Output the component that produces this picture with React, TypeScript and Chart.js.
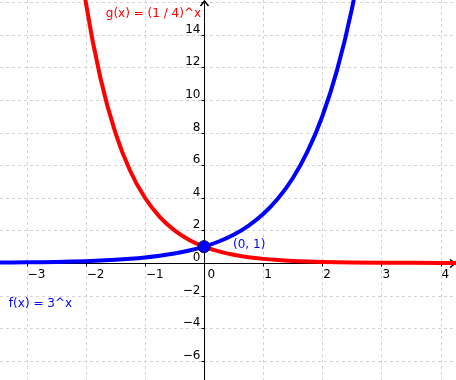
import React, { useEffect, useRef } from "react";
import { Chart, registerables } from "chart.js";

Chart.register(...registerables);

const fX = [-3.5, -3.25, -3, -2.75, -2.5, -2.25, -2, -1.75, -1.5, -1.25, -1, -0.75, -0.5, -0.25, 0, 0.25, 0.5, 0.75, 1, 1.25, 1.5, 1.75, 2, 2.25, 2.5, 2.75];
const fY = [0.021, 0.028, 0.037, 0.049, 0.064, 0.084, 0.111, 0.146, 0.192, 0.253, 0.333, 0.439, 0.577, 0.76, 1, 1.316, 1.732, 2.28, 3, 3.948, 5.196, 6.839, 9, 11.845, 15.588, 20.515];

// g(x) = (1/4)^x
const gX = [-2.25, -2, -1.75, -1.5, -1.25, -1, -0.75, -0.5, -0.25, 0, 0.25, 0.5, 0.75, 1, 1.25, 1.5, 1.75, 2, 2.5, 3, 3.5, 4, 4.5];
const gY = [22.627, 16, 11.314, 8, 5.657, 4, 2.828, 2, 1.414, 1, 0.707, 0.5, 0.354, 0.25, 0.177, 0.125, 0.088, 0.0625, 0.031, 0.0156, 0.0078, 0.0039, 0.002];

// highlighted point
const pointX = [0];
const pointY = [1];

// axis ticks
const xTicks = [-3, -2, -1, 0, 1, 2, 3, 4];
const yTicks = [-6, -4, -2, 0, 2, 4, 6, 8, 10, 12, 14, 16];
const xTickLabels = ["−3", "−2", "−1", "0", "1", "2", "3", "4"];
const yTickLabels = ["−6", "−4", "−2", "0", "2", "4", "6", "8", "10", "12", "14", ""];

const fLabel = "f(x) = 3^x";
const gLabel = "g(x) = (1 / 4)^x";
const pointLabel = "(0, 1)";

const FONT = "12px 'DejaVu Sans', Verdana, sans-serif";

const axesPlugin = {
  id: "mathAxes",
  beforeDatasetsDraw(chart: any) {
    const { ctx, chartArea, scales } = chart;
    const xs = scales.x;
    const ys = scales.y;
    const x0 = Math.round(xs.getPixelForValue(0)) + 0.5;
    const y0 = Math.round(ys.getPixelForValue(0)) + 0.5;
    ctx.save();
    // grid
    ctx.strokeStyle = "#d4d4d4";
    ctx.lineWidth = 1;
    ctx.setLineDash([3, 3]);
    xTicks.forEach((v) => {
      if (v === 0) return;
      const px = Math.round(xs.getPixelForValue(v)) + 0.5;
      ctx.beginPath();
      ctx.moveTo(px, chartArea.top);
      ctx.lineTo(px, chartArea.bottom);
      ctx.stroke();
    });
    yTicks.forEach((v) => {
      if (v === 0) return;
      const py = Math.round(ys.getPixelForValue(v)) + 0.5;
      ctx.beginPath();
      ctx.moveTo(chartArea.left, py);
      ctx.lineTo(chartArea.right, py);
      ctx.stroke();
    });
    ctx.setLineDash([]);
    // axes
    ctx.strokeStyle = "#000";
    ctx.lineWidth = 1;
    ctx.beginPath();
    ctx.moveTo(chartArea.left, y0);
    ctx.lineTo(chartArea.right - 1, y0);
    ctx.moveTo(x0, chartArea.bottom);
    ctx.lineTo(x0, chartArea.top + 1);
    ctx.stroke();
    // arrows
    ctx.lineWidth = 1.5;
    ctx.beginPath();
    ctx.moveTo(chartArea.right - 6, y0 - 4);
    ctx.lineTo(chartArea.right - 1, y0);
    ctx.lineTo(chartArea.right - 6, y0 + 4);
    ctx.moveTo(x0 - 4, chartArea.top + 6);
    ctx.lineTo(x0, chartArea.top + 1);
    ctx.lineTo(x0 + 4, chartArea.top + 6);
    ctx.stroke();
    // tick marks
    ctx.lineWidth = 1;
    ctx.beginPath();
    xTicks.forEach((v) => {
      if (v === 0) return;
      const px = Math.round(xs.getPixelForValue(v)) + 0.5;
      ctx.moveTo(px, y0);
      ctx.lineTo(px, y0 + 3);
    });
    yTicks.forEach((v) => {
      if (v === 0) return;
      const py = Math.round(ys.getPixelForValue(v)) + 0.5;
      ctx.moveTo(x0, py);
      ctx.lineTo(x0 - 3, py);
    });
    ctx.stroke();
    // tick labels
    ctx.font = FONT;
    ctx.fillStyle = "#000";
    ctx.textBaseline = "middle";
    ctx.textAlign = "left";
    xTicks.forEach((v, i) => {
      const px = v === 0 ? x0 + 3 : xs.getPixelForValue(v) + 1;
      ctx.fillText(xTickLabels[i], px, y0 + 11);
    });
    ctx.textAlign = "right";
    yTicks.forEach((v, i) => {
      const py = ys.getPixelForValue(v);
      ctx.fillText(yTickLabels[i], x0 - 4, py - 5);
    });
    ctx.restore();
  },
  afterDatasetsDraw(chart: any) {
    const { ctx, scales } = chart;
    const xs = scales.x;
    const ys = scales.y;
    const x0 = xs.getPixelForValue(0);
    ctx.save();
    ctx.font = FONT;
    ctx.textBaseline = "middle";
    ctx.fillStyle = "#ff0000";
    ctx.textAlign = "right";
    ctx.fillText(gLabel, x0 - 3, ys.getPixelForValue(15.25));
    ctx.fillStyle = "#0000ff";
    ctx.textAlign = "left";
    ctx.fillText(fLabel, xs.getPixelForValue(-3.3), ys.getPixelForValue(-2.5));
    ctx.fillText(pointLabel, xs.getPixelForValue(pointX[0]) + 29, ys.getPixelForValue(pointY[0]) - 2);
    ctx.restore();
  },
};

export default function App() {
  const ref = useRef<HTMLCanvasElement>(null);
  useEffect(() => {
    document.body.style.margin = "0";
    const toXY = (xa: number[], ya: number[]) => xa.map((x, i) => ({ x, y: ya[i] }));
    const chart = new Chart(ref.current!, {
      type: "scatter",
      data: {
        datasets: [
          {
            label: "point",
            data: toXY(pointX, pointY),
            pointRadius: 6,
            pointBackgroundColor: "#0000ff",
            pointBorderColor: "#000055",
            pointBorderWidth: 1,
            showLine: false,
            order: 0,
          },
          {
            label: "g",
            data: toXY(gX, gY),
            showLine: true,
            borderColor: "#ff0000",
            borderWidth: 4,
            pointRadius: 0,
            cubicInterpolationMode: "monotone",
            order: 2,
          },
          {
            label: "f",
            data: toXY(fX, fY),
            showLine: true,
            borderColor: "#0000ff",
            borderWidth: 4,
            pointRadius: 0,
            cubicInterpolationMode: "monotone",
            order: 1,
          },
        ],
      },
      options: {
        animation: false,
        responsive: false,
        maintainAspectRatio: false,
        devicePixelRatio: 1,
        layout: { padding: 0, autoPadding: false },
        plugins: { legend: { display: false }, tooltip: { enabled: false } },
        events: [],
        scales: {
          x: { type: "linear", min: -3.45, max: 4.26, display: false },
          y: { type: "linear", min: -7.18, max: 16.13, display: false },
        },
      },
      plugins: [axesPlugin],
    });
    return () => chart.destroy();
  }, []);
  return (
    <div style={{ position: "fixed", left: 0, top: 0, width: 456, height: 380, background: "#fff", overflow: "hidden" }}>
      <canvas ref={ref} width={456} height={380} style={{ display: "block", width: 456, height: 380 }} />
    </div>
  );
}
